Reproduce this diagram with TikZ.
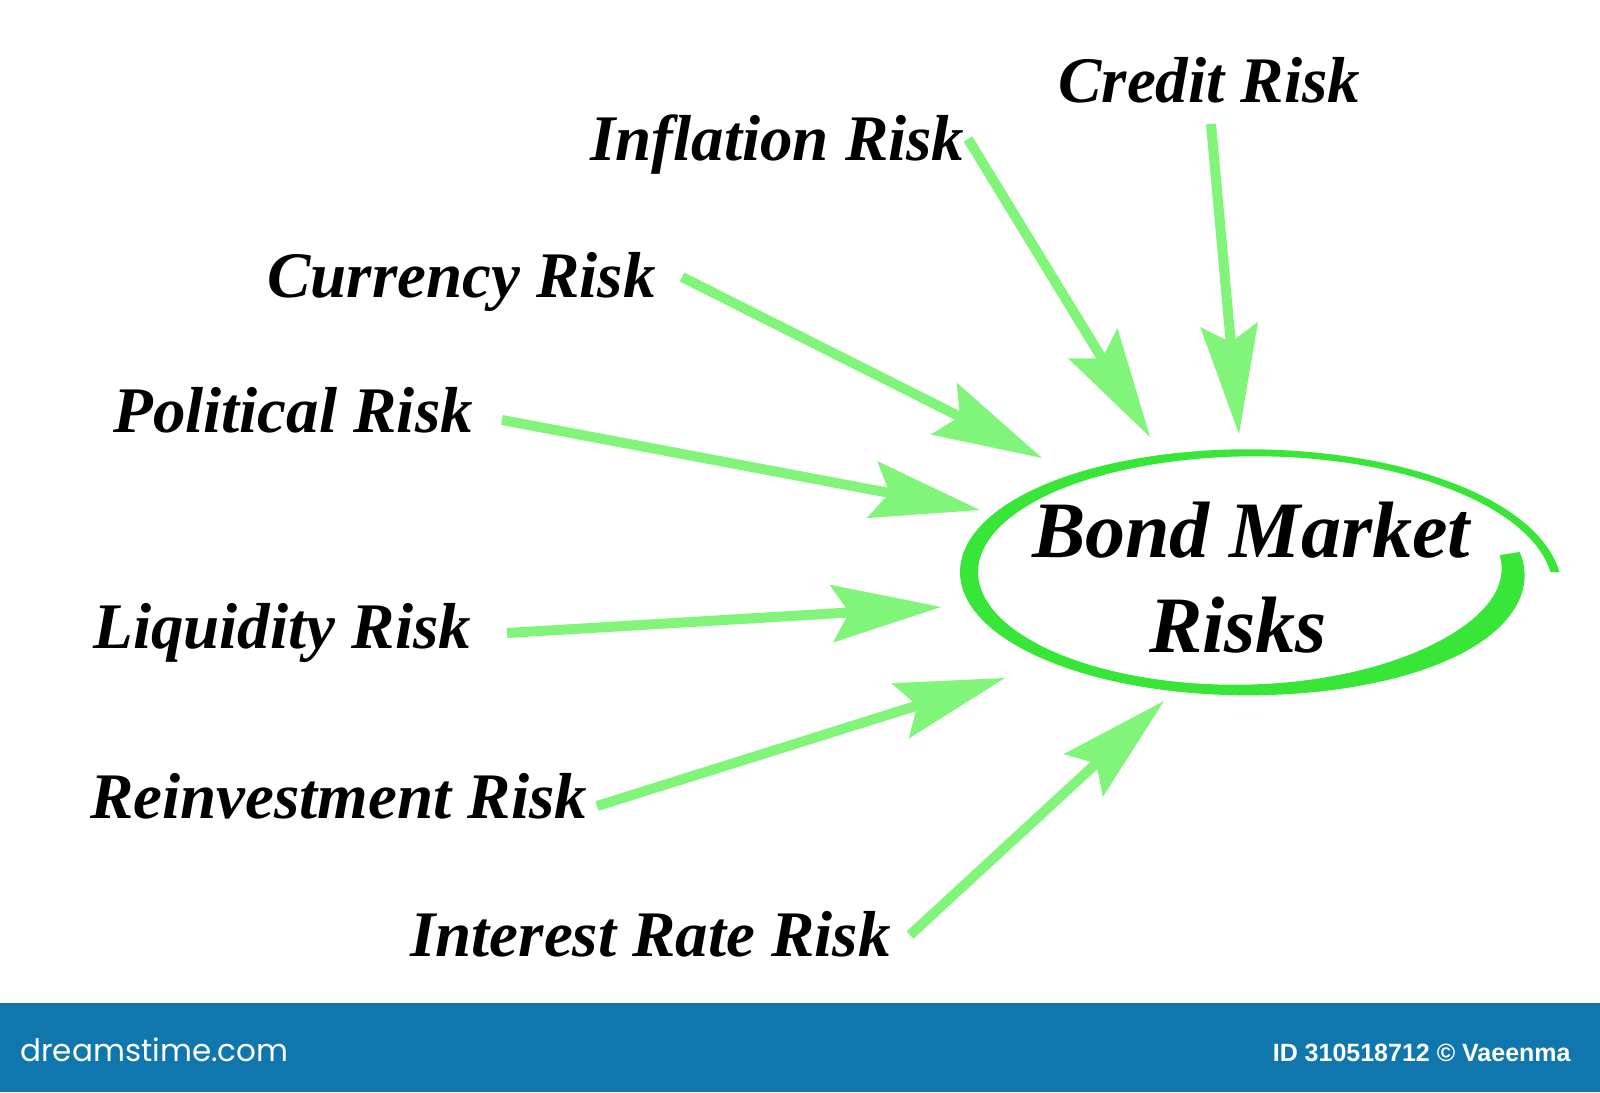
\documentclass[tikz,border=0pt]{standalone}
\usepackage{fontspec}
\setmainfont{Liberation Serif}
\newfontfamily\bannerfont{Poppins}
\newfontfamily\idfont{Liberation Sans}
\usetikzlibrary{arrows.meta}
\definecolor{arrowgreen}{RGB}{128,245,122}
\definecolor{ringgreen}{RGB}{55,230,55}
\definecolor{bannerblue}{RGB}{16,119,174}
\begin{document}
\begin{tikzpicture}[x=0.5pt,y=-0.5pt,
  risklabel/.style={anchor=base west, inner sep=0pt, font=\fontsize{32.5}{39}\selectfont\bfseries\itshape},
  centertext/.style={anchor=base, inner sep=0pt, font=\fontsize{40}{48}\selectfont\bfseries\itshape},
  feeder/.style={draw=arrowgreen, line width=5pt, -{Stealth[length=55pt,width=29pt,inset=9pt,line width=0pt]}},
  declare function={
    gg(\u)=1+0.154*(max(0,\u-240)/120)*(max(0,\u-240)/120);
    ww(\u)=9+17*exp(max(-8,-((\u-20)/45)*((\u-20)/45)))+9*exp(max(-8,-((\u-180)/40)*((\u-180)/40)))-2.5*exp(max(-8,-((\u-290)/40)*((\u-290)/40)));
  }]
\useasboundingbox (0,0) rectangle (1600,1092);
\fill[white] (0,0) rectangle (1600,1092);

% labels
\node[risklabel] (credit) at (1058,102) {Credit Risk};
\node[risklabel] (inflation) at (590,160) {Inflation Risk};
\node[risklabel] (currency) at (267,297) {Currency Risk};
\node[risklabel] (political) at (113,432) {Political Risk};
\node[risklabel] (liquidity) at (93,648) {Liquidity Risk};
\node[risklabel] (reinvest) at (90,818) {Reinvestment Risk};
\node[risklabel] (interest) at (410,956) {Interest Rate Risk};

% centre
\node[centertext] (bondmarket) at (1251,557) {Bond Market};
\node[centertext] (risks) at (1238,652) {Risks};

\fill[ringgreen]
  plot[domain=-9:360,samples=220,variable=\t] ({1241+(272*gg(\t)+ww(\t)/2)*cos(\t)},{572+(118*gg(\t)+ww(\t)/2)*sin(\t)})
  -- plot[domain=360:-9,samples=220,variable=\t] ({1241+(272*gg(\t)-ww(\t)/2)*cos(\t)},{572+(118*gg(\t)-ww(\t)/2)*sin(\t)})
  -- cycle;

% arrow end points
\coordinate (sCredit) at (1211,124);   \coordinate (tCredit) at (1239,434);
\coordinate (sInfl) at (968,139);      \coordinate (tInfl) at (1150,437);
\coordinate (sCurr) at (682,277);      \coordinate (tCurr) at (1042,458);
\coordinate (sPol) at (502,420);       \coordinate (tPol) at (980,510);
\coordinate (sLiq) at (507,633);       \coordinate (tLiq) at (941,607);
\coordinate (sRein) at (597,806);      \coordinate (tRein) at (1005,678);
\coordinate (sInt) at (910,935);       \coordinate (tInt) at (1164,701);

\draw[feeder] (sCredit) -- (tCredit);
\draw[feeder] (sInfl) -- (tInfl);
\draw[feeder] (sCurr) -- (tCurr);
\draw[feeder] (sPol) -- (tPol);
\draw[feeder] (sLiq) -- (tLiq);
\draw[feeder] (sRein) -- (tRein);
\draw[feeder] (sInt) -- (tInt);

% banner
\fill[bannerblue] (0,1003) rectangle (1600,1092);
\node[anchor=base west, inner sep=0pt, text=white, font=\bannerfont\fontsize{15.5}{18}\selectfont] (logo) at (20,1061) {dreamstime.com};
\node[anchor=base east, inner sep=0pt, text=white, font=\idfont\bfseries\fontsize{12.5}{15}\selectfont] (imgid) at (1571,1061) {ID 310518712 © Vaeenma};
\end{tikzpicture}
\end{document}
